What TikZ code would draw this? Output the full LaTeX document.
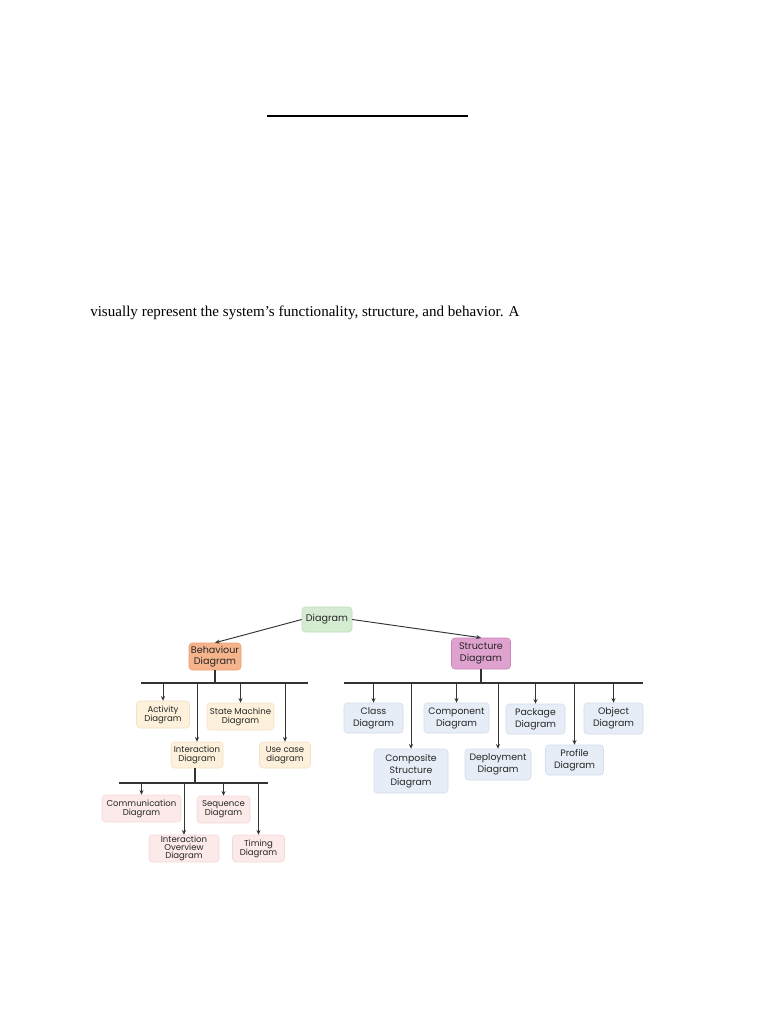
\documentclass[tikz,border=0pt]{standalone}
\usepackage{fontspec}
\setmainfont{Liberation Serif}
\newfontfamily\popfont{Poppins}
\usetikzlibrary{arrows.meta}
\definecolor{diagfill}{HTML}{D5ECD3}
\definecolor{diagdraw}{HTML}{B9DDB6}
\definecolor{behfill}{HTML}{F6B48C}
\definecolor{behdraw}{HTML}{EFA070}
\definecolor{strfill}{HTML}{DFA2CF}
\definecolor{strdraw}{HTML}{CC84BB}
\definecolor{creamfill}{HTML}{FDF1DC}
\definecolor{creamdraw}{HTML}{F3E2C4}
\definecolor{pinkfill}{HTML}{FCE9E9}
\definecolor{pinkdraw}{HTML}{F4D8D8}
\definecolor{bluefill}{HTML}{E7EDF6}
\definecolor{bluedraw}{HTML}{D2DCEB}
\definecolor{linecol}{HTML}{333333}
\definecolor{txtcol}{HTML}{262626}
\tikzset{
  box/.style n args={2}{rectangle, rounded corners=2.5pt, line width=0.4pt,
    minimum width=#1*0.75pt, minimum height=#2*0.75pt, inner sep=0pt,
    align=center, text=txtcol},
  topfont/.style={font=\popfont\fontsize{7.2}{8}\selectfont},
  smallfont/.style={font=\popfont\fontsize{6.4}{6.6}\selectfont},
  bigfont/.style={font=\popfont\fontsize{7}{9}\selectfont},
  gbox/.style={fill=diagfill, draw=diagdraw, topfont},
  obox/.style={fill=behfill, draw=behdraw, topfont},
  mbox/.style={fill=strfill, draw=strdraw, font=\popfont\fontsize{7.2}{9.2}\selectfont},
  cbox/.style={fill=creamfill, draw=creamdraw, smallfont},
  pbox/.style={fill=pinkfill, draw=pinkdraw, smallfont},
  bbox/.style={fill=bluefill, draw=bluedraw, bigfont},
  conn/.style={draw=linecol, line width=0.7pt, -{Stealth[length=3.5pt,width=3pt]}},
  barline/.style={draw=linecol, line width=1.1pt},
  stem/.style={draw=linecol, line width=0.8pt}
}
\begin{document}
\begin{tikzpicture}[x=0.75pt,y=-0.75pt]
\useasboundingbox (0,0) rectangle (768,1024);
\fill[white] (0,0) rectangle (768,1024);
% header rule and text
\coordinate (ruleL) at (267,116);
\coordinate (ruleR) at (468,116);
\draw[line width=1.5pt] (ruleL) -- (ruleR);
\node[anchor=base west, inner sep=0pt, font=\fontsize{11.3}{13}\selectfont] (para) at (90,316)
  {visually represent the system’s functionality, structure, and behavior. A};

% nodes
\node[box={50}{25}, gbox] (diag) at (327,619.5) {Diagram};
\node[box={52}{27}, obox] (beh) at (215,656.5) {Behaviour\\Diagram};
\node[box={59}{31}, mbox] (str) at (481,653.5) {Structure\\Diagram};

\node[box={53}{27}, cbox] (act) at (163,714.5) {Activity\\Diagram};
\node[box={67}{27}, cbox] (sm) at (240.5,716.5) {State Machine\\Diagram};
\node[box={52}{26}, cbox] (inter) at (197,755) {Interaction\\Diagram};
\node[box={51}{26}, cbox] (use) at (285,755) {Use case\\diagram};

\node[box={79}{27}, pbox] (comm) at (141.5,808.5) {Communication\\Diagram};
\node[box={53}{27}, pbox] (seq) at (223.5,809.5) {Sequence\\Diagram};
\node[box={70}{27}, pbox, font=\popfont\fontsize{6.4}{5.8}\selectfont] (io) at (184,848.5) {Interaction\\Overview\\Diagram};
\node[box={52}{27}, pbox] (tim) at (258.5,848.5) {Timing\\Diagram};

\node[box={59}{30}, bbox] (class) at (373.5,718) {Class\\Diagram};
\node[box={65}{30}, bbox] (comp) at (456.5,718) {Component\\Diagram};
\node[box={59}{30}, bbox] (pkg) at (535.5,719) {Package\\Diagram};
\node[box={59}{31}, bbox] (obj) at (613.5,718.5) {Object\\Diagram};
\node[box={74}{44}, bbox] (cs) at (411,771) {Composite\\Structure\\Diagram};
\node[box={66}{31}, bbox] (dep) at (498,764.5) {Deployment\\Diagram};
\node[box={58}{30}, bbox] (prof) at (574.5,760) {Profile\\Diagram};

% top arrows
\draw[conn] (diag.west) -- (beh.north);
\draw[conn] (diag.east) -- (str.north);

% behaviour bar
\coordinate (bbarL) at (141,683);
\coordinate (bbarR) at (308,683);
\draw[barline] (bbarL) -- (bbarR);
\draw[stem] (beh.south) -- (beh.south |- bbarL);
\foreach \n in {act,sm,inter,use}
  \draw[conn] (\n.north |- bbarL) -- (\n.north);

% interaction bar
\coordinate (ibarL) at (119,783);
\coordinate (ibarR) at (268,783);
\draw[barline] (ibarL) -- (ibarR);
\draw[stem] ([xshift=-1.5pt]inter.south) -- ([xshift=-1.5pt]inter.south |- ibarL);
\foreach \n in {comm,seq,io,tim}
  \draw[conn] (\n.north |- ibarL) -- (\n.north);

% structure bar
\coordinate (sbarL) at (344,683);
\coordinate (sbarR) at (643,683);
\draw[barline] (sbarL) -- (sbarR);
\draw[stem] (str.south) -- (str.south |- sbarL);
\foreach \n in {class,comp,pkg,obj,cs,dep,prof}
  \draw[conn] (\n.north |- sbarL) -- (\n.north);
\end{tikzpicture}
\end{document}
